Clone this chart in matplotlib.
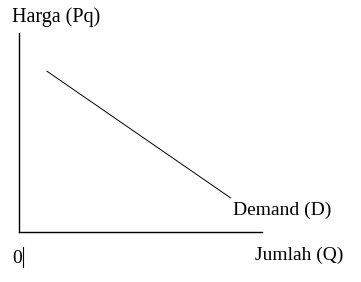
import matplotlib
matplotlib.use("Agg")
import matplotlib.pyplot as plt

# Data (arbitrary units: Q and P from 0 to 10)
demand_q = [1.15, 8.7]
demand_p = [8.08, 1.72]
y_label = "Harga (Pq)"
x_label = "Jumlah (Q)"
curve_label = "Demand (D)"
origin_label = "0"

W, H = 361, 282
fig = plt.figure(figsize=(W / 100, H / 100), dpi=100)
fig.patch.set_facecolor("white")
plt.rcParams['font.family'] = ['Liberation Serif', 'DejaVu Serif']

# axes from x=19..262 px, y=33..232 px
ax = fig.add_axes([19 / W, 1 - 232 / H, (262 - 19) / W, (232 - 33) / H])
ax.set_xlim(0, 10)
ax.set_ylim(0, 10)
for s in ["top", "right"]:
    ax.spines[s].set_visible(False)
for s in ["left", "bottom"]:
    ax.spines[s].set_linewidth(1.0)
    ax.spines[s].set_color("black")
ax.set_xticks([])
ax.set_yticks([])
ax.patch.set_alpha(0)

ax.plot(demand_q, demand_p, color="black", linewidth=0.7)

fs = 14
fig.text(12 / W, 1 - 22 / H, y_label, fontsize=14.5, ha="left", va="baseline")
fig.text(233 / W, 1 - 215 / H, curve_label, fontsize=fs, ha="left", va="baseline")
fig.text(255 / W, 1 - 260 / H, x_label, fontsize=fs, ha="left", va="baseline")
fig.text(12 / W, 1 - 263 / H, origin_label, fontsize=fs, ha="left", va="baseline")
fig.lines.append(matplotlib.lines.Line2D([22.5 / W, 22.5 / W], [1 - 247 / H, 1 - 267 / H],
                                         transform=fig.transFigure, color="black", linewidth=0.8))

fig.savefig("out.png", dpi=100)
